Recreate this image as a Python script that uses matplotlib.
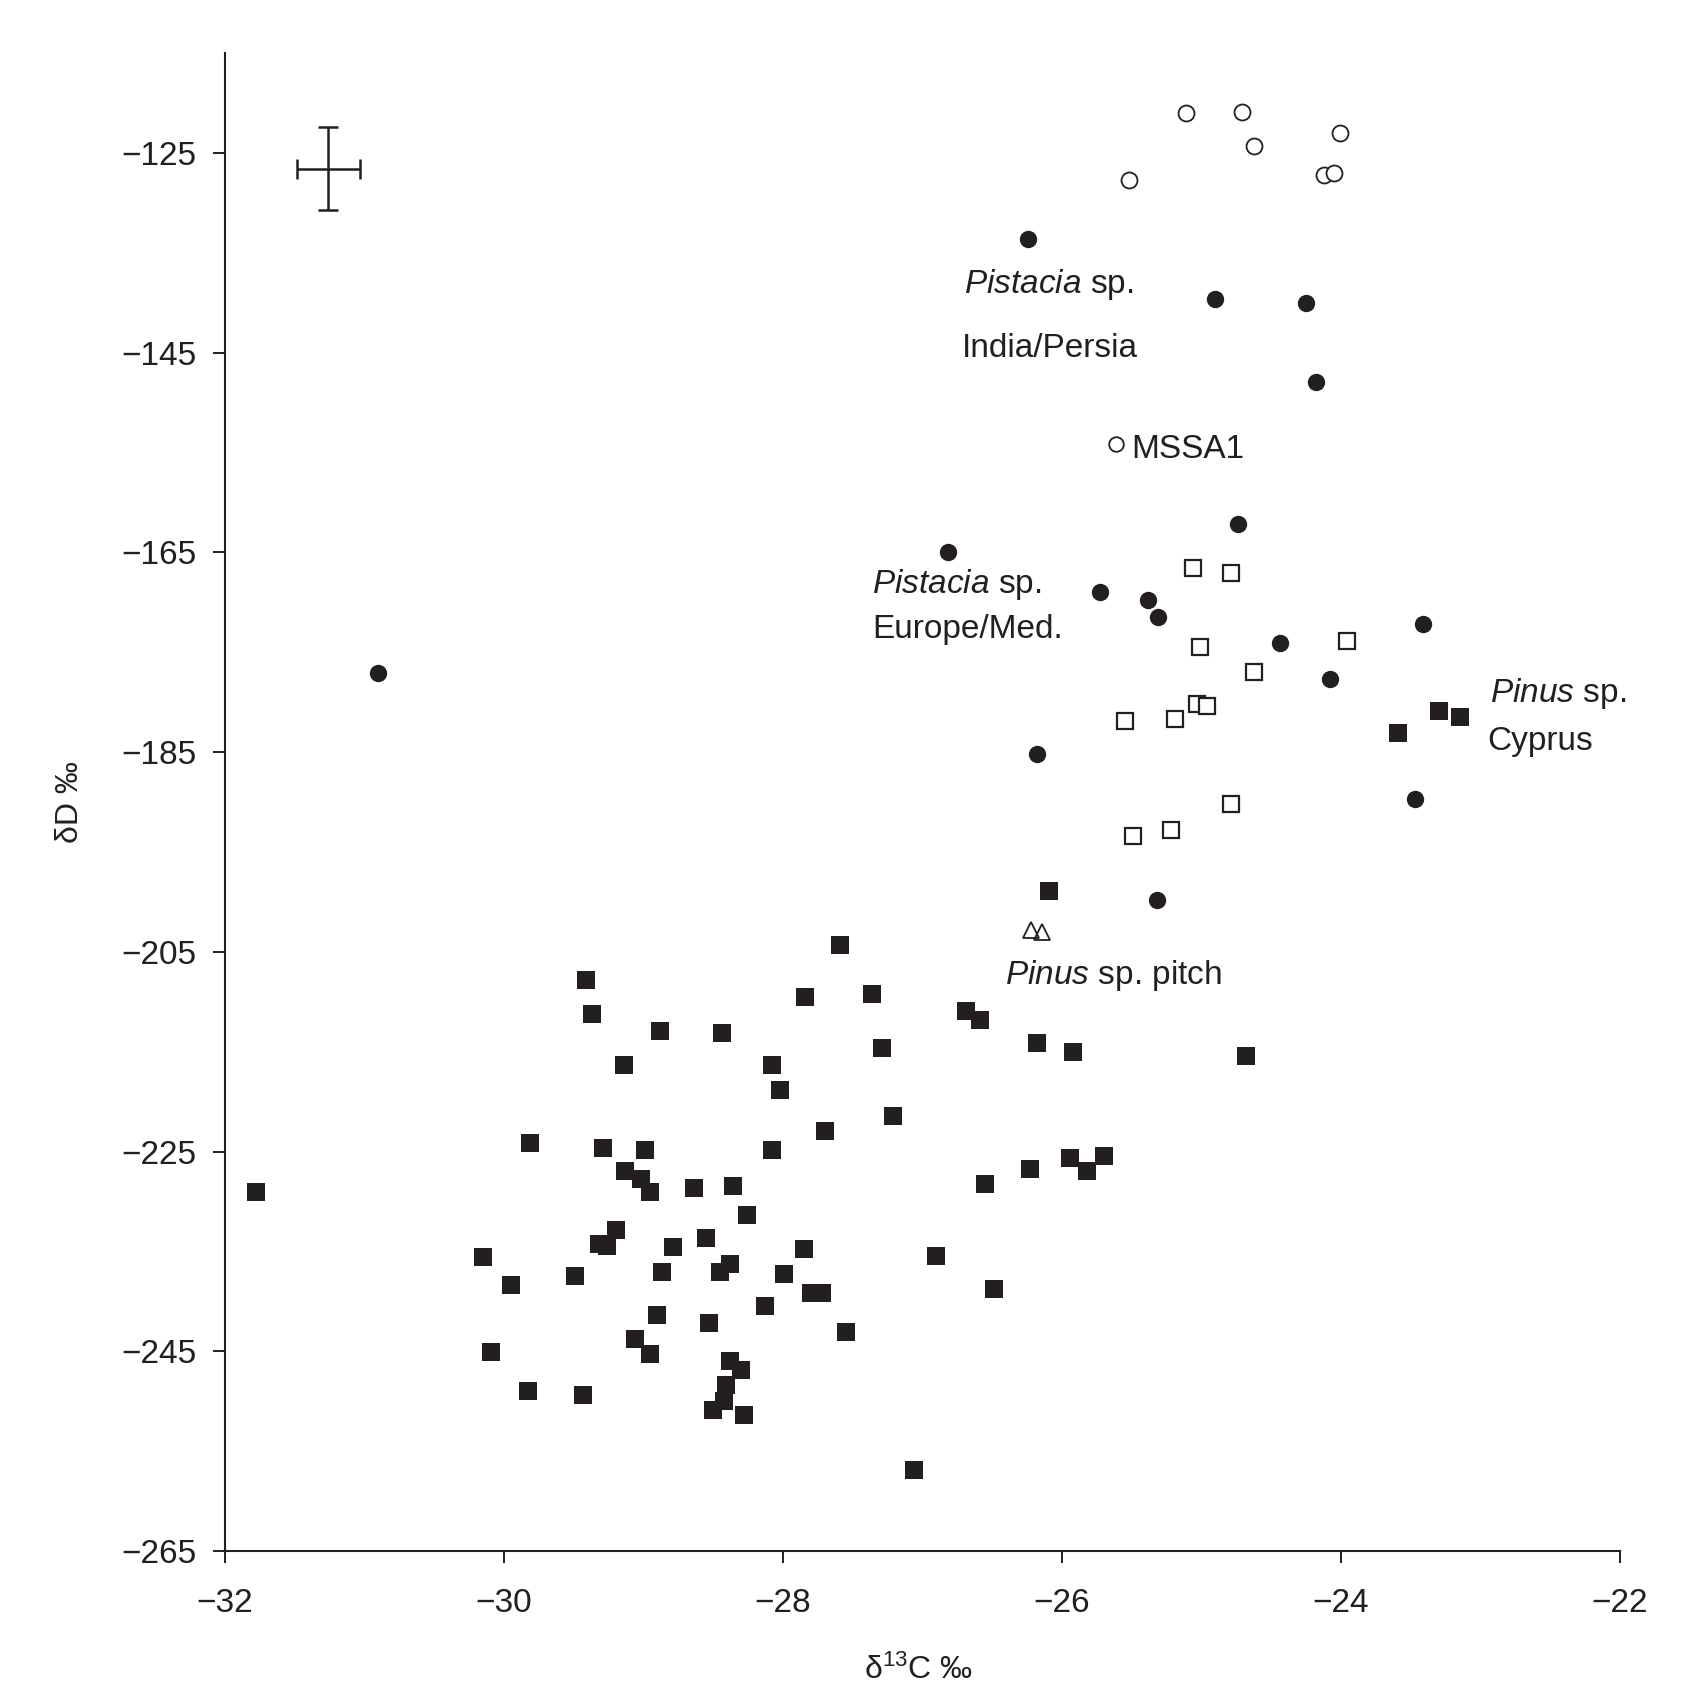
import matplotlib
matplotlib.use("Agg")
import matplotlib.pyplot as plt

plt.rcParams['font.family'] = ['Liberation Sans', 'DejaVu Sans']
plt.rcParams['mathtext.fontset'] = 'custom'
plt.rcParams['mathtext.rm'] = 'Liberation Sans'
plt.rcParams['mathtext.it'] = 'Liberation Sans:italic'

ink = '#231f20'

# open circles (top cluster)
open_circle_x = [-25.11, -24.71, -24.62, -24.01, -24.12, -24.05, -25.52]
open_circle_y = [-121.0, -120.9, -124.3, -123.0, -127.2, -127.0, -127.7]

# MSSA1 sample
mssa1_x = [-25.61]
mssa1_y = [-154.1]

# filled circles (Pistacia)
filled_circle_x = [-26.24, -24.90, -24.25, -24.18, -24.74, -26.82, -25.73, -25.38,
                   -25.31, -24.44, -24.08, -26.18, -25.32, -23.41, -23.47, -30.90]
filled_circle_y = [-133.6, -139.6, -140.0, -147.9, -162.2, -165.0, -169.0, -169.8,
                   -171.5, -174.1, -177.7, -185.2, -199.8, -172.2, -189.7, -177.1]

# open squares
open_square_x = [-25.06, -24.79, -23.96, -25.01, -24.62, -25.03, -24.96, -25.19,
                 -25.55, -24.79, -25.22, -25.49]
open_square_y = [-166.6, -167.1, -173.9, -174.5, -177.0, -180.2, -180.4, -181.7,
                 -181.9, -190.2, -192.8, -193.4]

# Pinus sp. pitch triangles
triangle_x = [-26.22, -26.14]
triangle_y = [-202.8, -203.0]

# Pinus sp. Cyprus
cyprus_x = [-23.30, -23.15, -23.59]
cyprus_y = [-180.9, -181.5, -183.1]

# filled squares (main Pinus cluster)
filled_square_x = [
    -29.41, -29.37, -28.88, -29.14, -29.81, -29.29, -28.99, -29.13, -29.02, -28.95,
    -28.64, -31.78,
    -27.59, -27.84, -27.36, -28.44, -26.69, -26.59, -26.18, -25.92, -24.68, -27.29,
    -28.08, -28.02, -27.21, -27.70, -28.08, -28.36, -28.26, -26.55, -26.23, -25.94,
    -25.82, -25.70,
    -29.20, -29.32, -29.26, -30.15, -28.79, -28.55, -29.95, -29.49, -28.87, -28.45,
    -28.38, -28.90, -28.53, -29.06, -28.95, -30.09, -29.83, -29.43,
    -27.85, -26.90, -27.99, -27.80, -27.72, -26.49, -28.13, -27.55, -28.38, -28.30,
    -28.41, -28.42, -28.50, -28.28, -27.06,
    -26.09]
filled_square_y = [
    -207.8, -211.2, -212.9, -216.3, -224.1, -224.6, -224.8, -226.9, -227.7, -229.0,
    -228.6, -229.0,
    -204.3, -209.5, -209.2, -213.1, -210.9, -211.8, -214.1, -215.0, -215.4, -214.6,
    -216.3, -218.8, -221.4, -222.9, -224.8, -228.4, -231.4, -228.2, -226.7, -225.6,
    -226.9, -225.4,
    -232.9, -234.3, -234.5, -235.6, -234.6, -233.7, -238.4, -237.5, -237.1, -237.1,
    -236.3, -241.4, -242.2, -243.8, -245.3, -245.1, -249.0, -249.4,
    -234.8, -235.5, -237.3, -239.2, -239.2, -238.8, -240.5, -243.1, -246.0, -246.9,
    -248.4, -250.0, -250.9, -251.4, -256.9,
    -198.9]

# analytical error cross
err_x, err_y = [-31.26], [-126.6]
err_dx, err_dy = [0.225], [4.16]

x_ticks = [-32, -30, -28, -26, -24, -22]
y_ticks = [-125, -145, -165, -185, -205, -225, -245, -265]

labels = [
    (r'$\it{Pistacia}$ sp.', -26.70, -139.0),
    ('India/Persia', -26.72, -145.4),
    ('MSSA1', -25.50, -155.5),
    (r'$\it{Pistacia}$ sp.', -27.36, -169.1),
    ('Europe/Med.', -27.36, -173.6),
    (r'$\it{Pinus}$ sp.', -22.93, -180.0),
    ('Cyprus', -22.95, -184.8),
    (r'$\it{Pinus}$ sp. pitch', -26.41, -208.2),
]

fig = plt.figure(figsize=(16.89, 16.85), dpi=100)
ax = fig.add_axes([0.1332, 0.0795, 0.8259, 0.889])

ax.plot(filled_square_x, filled_square_y, 's', ms=12.5, mfc=ink, mec=ink, mew=0, ls='none')
ax.plot(cyprus_x, cyprus_y, 's', ms=12.5, mfc=ink, mec=ink, mew=0, ls='none')
ax.plot(filled_circle_x, filled_circle_y, 'o', ms=12.5, mfc=ink, mec=ink, mew=0, ls='none')
ax.plot(open_circle_x, open_circle_y, 'o', ms=11.5, mfc='white', mec=ink, mew=1.3, ls='none')
ax.plot(mssa1_x, mssa1_y, 'o', ms=10.5, mfc='white', mec=ink, mew=1.3, ls='none')
ax.plot(open_square_x, open_square_y, 's', ms=11.3, mfc='white', mec=ink, mew=1.6, ls='none')
ax.plot(triangle_x, triangle_y, '^', ms=12, mfc='none', mec=ink, mew=1.3, ls='none')

ax.errorbar(err_x, err_y, xerr=err_dx, yerr=err_dy, fmt='none', ecolor=ink,
            elinewidth=1.8, capsize=7, capthick=1.8)

for txt, tx, ty in labels:
    ax.text(tx, ty, txt, fontsize=24, color=ink, ha='left', va='baseline')

ax.set_xlim(-32, -22)
ax.set_ylim(-265, -115)
ax.set_xticks(x_ticks)
ax.set_yticks(y_ticks)
ax.set_xticklabels(['\u2212' + str(abs(v)) for v in x_ticks])
ax.set_yticklabels(['\u2212' + str(abs(v)) for v in y_ticks])

for side in ['top', 'right']:
    ax.spines[side].set_visible(False)
for side in ['left', 'bottom']:
    ax.spines[side].set_linewidth(1.5)
    ax.spines[side].set_color(ink)

ax.tick_params(axis='both', direction='out', length=8.6, width=1.4, color=ink,
               labelsize=24, labelcolor=ink)
ax.tick_params(axis='x', pad=18)
ax.tick_params(axis='y', pad=12)

ax.set_xlabel(r'δ$^{13}$C ‰', fontsize=23, color=ink)
ax.set_ylabel('δD ‰', fontsize=23, color=ink)
ax.xaxis.set_label_coords(0.497, -0.069)
ax.yaxis.set_label_coords(-0.100, 0.5)

fig.savefig('out.png', dpi=100)
